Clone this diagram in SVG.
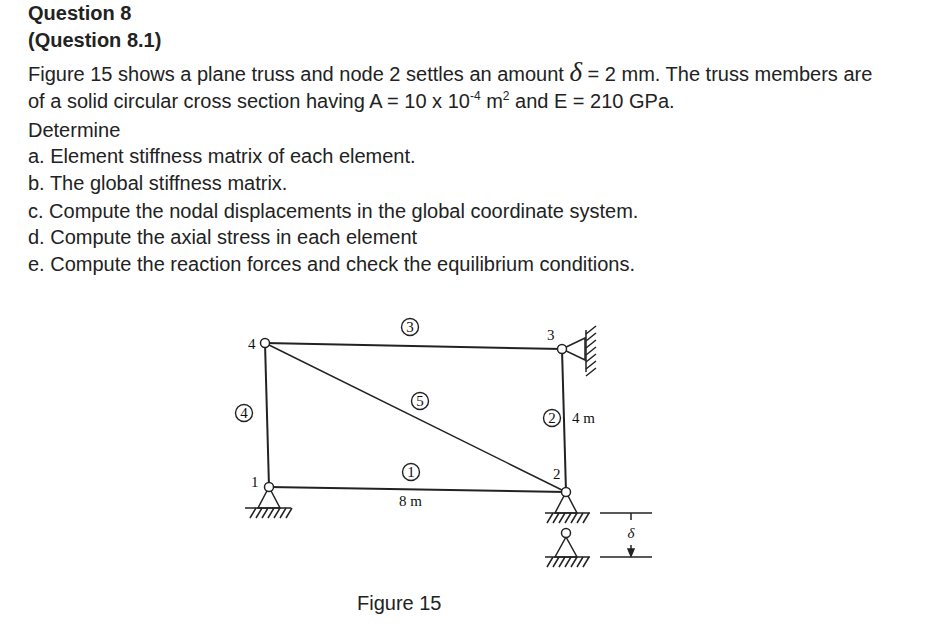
<svg xmlns="http://www.w3.org/2000/svg" width="925" height="624" viewBox="0 0 925 624">
<style>
.t{font-family:"Liberation Sans",Arial,sans-serif;font-size:20px;fill:#222}
.b{font-weight:bold}
.s{font-family:"Liberation Serif","Times New Roman",serif;font-size:15px;fill:#111}
.m{stroke:#222;stroke-width:2;fill:none}
.l{stroke:#222;stroke-width:1.5;fill:none}
.n{fill:#fff;stroke:#222;stroke-width:1.5}
.c{fill:#fff;stroke:#222;stroke-width:1.4}
</style>
<rect width="925" height="624" fill="#fff"/>
<g id="text">
<text class="t b" x="28" y="20">Question 8</text>
<text class="t b" x="28" y="47">(Question 8.1)</text>
<text class="t" x="28" y="81">Figure 15 shows a plane truss and node 2 settles an amount <tspan font-family="Liberation Serif" font-style="italic" font-size="27">δ</tspan> = 2 mm. The truss members are</text>
<text class="t" x="28" y="108">of a solid circular cross section having A = 10 x 10<tspan font-size="12" dy="-8">-4</tspan><tspan dy="8"> m</tspan><tspan font-size="12" dy="-8">2</tspan><tspan dy="8"> and E = 210 GPa.</tspan></text>
<text class="t" x="28" y="137">Determine</text>
<text class="t" x="28" y="163">a. Element stiffness matrix of each element.</text>
<text class="t" x="28" y="190">b. The global stiffness matrix.</text>
<text class="t" x="28" y="218">c. Compute the nodal displacements in the global coordinate system.</text>
<text class="t" x="28" y="244">d. Compute the axial stress in each element</text>
<text class="t" x="28" y="271">e. Compute the reaction forces and check the equilibrium conditions.</text>
<text class="t" x="357" y="610">Figure 15</text>
</g>
<g id="connectors">
<line class="m" x1="265" y1="343" x2="562" y2="349"/>
<line class="m" x1="265" y1="343" x2="269" y2="487"/>
<line class="m" x1="269" y1="487" x2="566" y2="492"/>
<line class="m" x1="562" y1="349" x2="566" y2="492"/>
<line class="l" x1="265" y1="343" x2="566" y2="492"/>
</g>
<g id="supports" class="l">
<path d="M269 487 L258 508 L280 508 Z"/>
<line x1="245" y1="508" x2="291" y2="508"/>
<path d="M250 518 L256 508 M256 518 L262 508 M262 518 L268 508 M268 518 L274 508 M274 518 L280 508 M280 518 L286 508 M286 518 L292 508"/>
<path d="M566 492 L555 513 L577 513 Z"/>
<line x1="545" y1="513" x2="590" y2="513"/>
<path d="M547 523 L553 513 M553 523 L559 513 M559 523 L565 513 M565 523 L571 513 M571 523 L577 513 M577 523 L583 513 M583 523 L589 513"/>
<path d="M566 537 L555 557 L577 557 Z"/>
<line x1="545" y1="557" x2="590" y2="557"/>
<path d="M547 567 L553 557 M553 567 L559 557 M559 567 L565 557 M565 567 L571 557 M571 567 L577 557 M577 567 L583 557 M583 567 L589 557"/>
<path d="M562 349 L585 338 L585 360 Z"/>
<line x1="586" y1="330" x2="586" y2="372"/>
<path d="M586 334 L596 326 M586 341 L596 333 M586 348 L596 340 M586 355 L596 347 M586 362 L596 354 M586 369 L596 361 M586 376 L596 368"/>
<line x1="600" y1="513" x2="652" y2="513"/>
<line x1="600" y1="557" x2="652" y2="557"/>
<line x1="631" y1="513" x2="631" y2="520"/>
<line x1="631" y1="545" x2="631" y2="553"/>
<path d="M628 549 L631 556 L634 549 Z" fill="#222"/>
</g>
<g id="n1"><circle class="n" cx="269" cy="487" r="4.5"/><text class="s" x="251" y="487">1</text></g>
<g id="n2"><circle class="n" cx="566" cy="492" r="4.5"/><text class="s" x="553" y="479">2</text></g>
<g id="n2b"><circle class="n" cx="566" cy="533" r="4.5"/></g>
<g id="n3"><circle class="n" cx="562" cy="349" r="4.5"/><text class="s" x="547" y="340">3</text></g>
<g id="n4"><circle class="n" cx="265" cy="343" r="4.5"/><text class="s" x="248" y="349">4</text></g>
<g id="labels">
<circle class="c" cx="410" cy="327" r="8.5"/><text class="s" x="410" y="332" text-anchor="middle" font-size="14">3</text>
<circle class="c" cx="420" cy="401" r="8.5"/><text class="s" x="420" y="406" text-anchor="middle" font-size="14">5</text>
<circle class="c" cx="244" cy="413" r="8.5"/><text class="s" x="244" y="418" text-anchor="middle" font-size="14">4</text>
<circle class="c" cx="552" cy="418" r="8.5"/><text class="s" x="552" y="423" text-anchor="middle" font-size="14">2</text>
<circle class="c" cx="411" cy="472" r="8.5"/><text class="s" x="411" y="477" text-anchor="middle" font-size="14">1</text>
<text class="s" x="572" y="423">4 m</text>
<text class="s" x="399" y="506">8 m</text>
<text class="s" x="631" y="538" text-anchor="middle" font-style="italic">δ</text>
</g>
</svg>
